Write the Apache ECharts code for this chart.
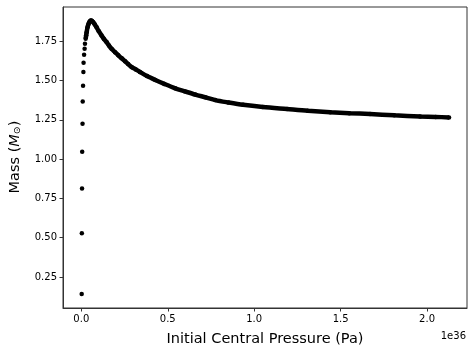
<!DOCTYPE html>
<html>
<head>
<meta charset="utf-8">
<script src="https://cdn.jsdelivr.net/npm/echarts@6/dist/echarts.min.js"></script>
<style>
html,body{margin:0;padding:0;background:#fff;}
#chart{width:474px;height:355px;}
</style>
</head>
<body>
<div id="chart"></div>
<script>
// Initial central pressure, in units of 1e36 Pa
const pressure = [0.002, 0.003, 0.004, 0.005, 0.007, 0.008, 0.010, 0.012, 0.013, 0.016, 0.019, 0.021, 0.025, 0.028, 0.031, 0.036, 0.041, 0.046, 0.051, 0.056, 0.062, 0.069, 0.078, 0.088, 0.100, 0.117, 0.130, 0.146, 0.160, 0.175, 0.195, 0.214, 0.233, 0.253, 0.270, 0.291, 0.315, 0.339, 0.380, 0.428, 0.480, 0.543, 0.600, 0.659, 0.720, 0.775, 0.850, 0.936, 1.050, 1.190, 1.310, 1.440, 1.550, 1.670, 1.810, 1.960, 2.050, 2.127];
// Mass in solar masses
const mass = [0.142, 0.528, 0.813, 1.046, 1.225, 1.366, 1.467, 1.554, 1.613, 1.663, 1.701, 1.733, 1.765, 1.787, 1.807, 1.839, 1.857, 1.870, 1.878, 1.881, 1.878, 1.870, 1.856, 1.839, 1.815, 1.786, 1.765, 1.744, 1.722, 1.701, 1.680, 1.660, 1.641, 1.622, 1.605, 1.585, 1.570, 1.554, 1.528, 1.503, 1.478, 1.450, 1.430, 1.410, 1.392, 1.375, 1.360, 1.345, 1.331, 1.318, 1.307, 1.298, 1.292, 1.286, 1.278, 1.271, 1.268, 1.265];
const xTicks = [0.0, 0.5, 1.0, 1.5, 2.0];
const yTicks = [0.25, 0.50, 0.75, 1.00, 1.25, 1.50, 1.75];
const denseStart = 12; // from here the dots merge into a continuous curve

const pts = pressure.map((p, i) => [p, mass[i]]);
const dense = pts.slice(denseStart);

const font = 'DejaVu Sans';
const axisColor = '#333';
const chart = echarts.init(document.getElementById('chart'), null, {renderer: 'canvas'});
chart.setOption({
  animation: false,
  backgroundColor: '#fff',
  grid: {left: 63, right: 7, top: 7, bottom: 47, show: true, borderColor: axisColor, borderWidth: 1, backgroundColor: 'transparent'},
  xAxis: {
    type: 'value', min: -0.106, max: 2.231,
    name: 'Initial Central Pressure (Pa)', nameLocation: 'middle', nameGap: 24,
    nameTextStyle: {fontFamily: font, fontSize: 14.5, color: '#000'},
    axisLine: {show: true, onZero: false, lineStyle: {color: axisColor, width: 1}},
    axisTick: {show: true, inside: false, length: 3.5, customValues: xTicks, lineStyle: {color: axisColor}},
    axisLabel: {customValues: xTicks, margin: 6, fontFamily: font, fontSize: 10, color: '#000', formatter: v => v.toFixed(1)},
    splitLine: {show: false}
  },
  yAxis: {
    type: 'value', min: 0.053, max: 1.967,
    axisLine: {show: true, onZero: false, lineStyle: {color: axisColor, width: 1}},
    axisTick: {show: true, inside: false, length: 3.5, customValues: yTicks, lineStyle: {color: axisColor}},
    axisLabel: {customValues: yTicks, margin: 6, fontFamily: font, fontSize: 10, color: '#000', formatter: v => v.toFixed(2)},
    splitLine: {show: false}
  },
  graphic: [
    {type: 'text', x: 15, y: 157, rotation: Math.PI / 2,
     style: {text: 'Mass ({it|M}{sub|⊙})', fontFamily: font, fontSize: 14.5, fill: '#000', align: 'center', verticalAlign: 'middle',
       rich: {it: {fontStyle: 'italic', fontFamily: font, fontSize: 14.5, fill: '#000'},
              sub: {fontFamily: font, fontSize: 9.5, fill: '#000', verticalAlign: 'bottom'}}}},
    {type: 'text', x: 466, y: 336, style: {text: '1e36', fontFamily: font, fontSize: 10, fill: '#000', align: 'right', verticalAlign: 'middle'}}
  ],
  series: [
    {type: 'line', data: dense, showSymbol: false, smooth: 0.3, lineStyle: {color: '#000', width: 4.5, opacity: 1}, z: 2},
    {type: 'scatter', data: pts, symbol: 'circle', symbolSize: 4.5, itemStyle: {color: '#000', opacity: 1}, z: 3}
  ]
});
</script>
</body>
</html>
